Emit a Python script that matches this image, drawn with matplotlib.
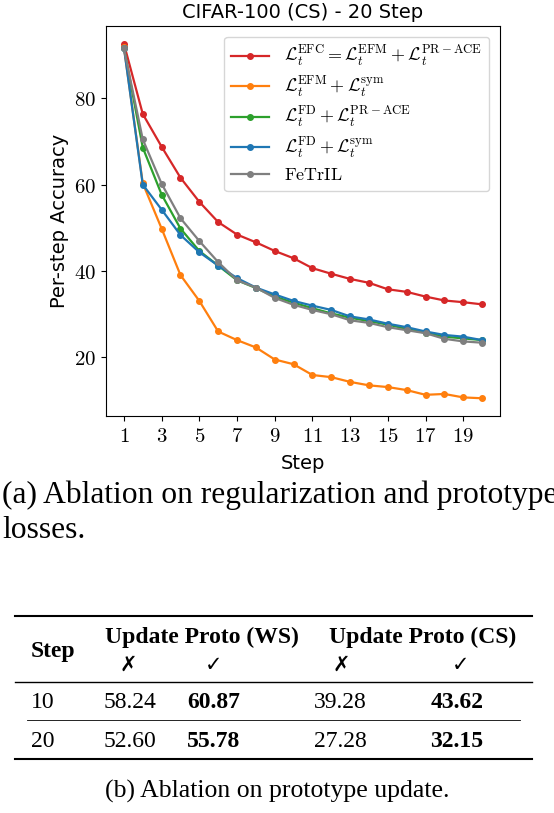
import matplotlib
matplotlib.use("Agg")
import matplotlib.pyplot as plt
from matplotlib.ticker import FuncFormatter
from matplotlib.lines import Line2D

plt.rcParams['mathtext.fontset'] = 'cm'

# ---------------- data ----------------
steps = list(range(1, 21))
efc = [92.7, 76.4, 68.8, 61.6, 56.0, 51.3, 48.4, 46.6, 44.6, 42.9,
       40.6, 39.3, 38.1, 37.2, 35.7, 35.1, 34.0, 33.1, 32.7, 32.2]
efm_sym = [91.9, 60.3, 49.8, 39.0, 33.0, 25.9, 23.9, 22.2, 19.4, 18.3,
           15.8, 15.3, 14.2, 13.4, 13.0, 12.3, 11.2, 11.4, 10.6, 10.4]
fd_prace = [91.8, 68.6, 57.7, 49.8, 44.6, 41.2, 37.8, 36.0, 34.0, 32.6,
            31.3, 30.1, 29.1, 28.3, 27.5, 26.5, 25.6, 24.7, 24.3, 23.9]
fd_sym = [91.8, 60.0, 54.2, 48.3, 44.3, 41.2, 38.3, 36.1, 34.5, 33.0,
          31.9, 30.9, 29.4, 28.7, 27.7, 26.9, 25.9, 25.1, 24.7, 23.9]
fetril = [91.6, 70.5, 60.2, 52.2, 46.9, 42.0, 37.8, 36.1, 33.7, 32.1,
          30.9, 29.9, 28.5, 27.9, 26.9, 26.2, 25.5, 24.2, 23.6, 23.3]

series = [efc, efm_sym, fd_prace, fd_sym, fetril]
labels = [r'$\mathcal{L}_t^{\mathrm{EFC}} = \mathcal{L}_t^{\mathrm{EFM}} + \mathcal{L}_t^{\mathrm{PR-ACE}}$',
          r'$\mathcal{L}_t^{\mathrm{EFM}} + \mathcal{L}_t^{\mathrm{sym}}$',
          r'$\mathcal{L}_t^{\mathrm{FD}} + \mathcal{L}_t^{\mathrm{PR-ACE}}$',
          r'$\mathcal{L}_t^{\mathrm{FD}} + \mathcal{L}_t^{\mathrm{sym}}$',
          r'$\mathrm{FeTrIL}$']
colors = ['#d62728', '#ff7f0e', '#2ca02c', '#1f77b4', '#7f7f7f']
xticks = list(range(1, 20, 2))

title = 'CIFAR-100 (CS) - 20 Step'
caption_a = ['(a) Ablation on regularization and prototype', 'losses.']
caption_b = '(b) Ablation on prototype update.'

tbl_steps = ['10', '20']
ws_no = ['58.24', '52.60']
ws_yes = ['60.87', '55.78']
cs_no = ['39.28', '27.28']
cs_yes = ['43.62', '32.15']

# ---------------- figure ----------------
W, H = 554, 813
fig = plt.figure(figsize=(W / 100, H / 100), dpi=100)


def fx(px):
    return px / W


def fy(py):
    return 1 - py / H


ax = fig.add_axes([fx(106), fy(416), fx(394), 390 / H])
for ys, lab, c in zip(series, labels, colors):
    ax.plot(steps, ys, '-o', color=c, label=lab, lw=1.6, ms=4)

ax.set_xticks(xticks)
fmt = FuncFormatter(lambda v, p: r'$%d$' % int(round(v)))
ax.xaxis.set_major_formatter(fmt)
ax.yaxis.set_major_formatter(fmt)
ax.tick_params(labelsize=15)
ax.set_title(title, fontsize=14)
ax.set_xlabel('Step', fontsize=14, labelpad=6)
ax.set_ylabel('Per-step Accuracy', fontsize=14)
ax.legend(loc='upper right', fontsize=13, labelspacing=0.3, handlelength=2.1,
          borderaxespad=0.6)

# ---------------- captions ----------------
serif = 'Liberation Serif'
fig.text(fx(2), fy(503), caption_a[0], family=serif, fontsize=22.7, va='baseline', ha='left')
fig.text(fx(2), fy(538), caption_a[1], family=serif, fontsize=22.7, va='baseline', ha='left')

# ---------------- table ----------------
fs = 17
x0, x1 = 15, 532
fig.add_artist(Line2D([fx(x0), fx(x1)], [fy(616), fy(616)], color='black', lw=1.5))
fig.add_artist(Line2D([fx(x0), fx(x1)], [fy(682), fy(682)], color='black', lw=1.0))
fig.add_artist(Line2D([fx(27), fx(520)], [fy(720), fy(720)], color='black', lw=0.6))
fig.add_artist(Line2D([fx(x0), fx(x1)], [fy(759), fy(759)], color='black', lw=1.5))

fig.text(fx(31), fy(657), 'Step', family=serif, weight='bold', fontsize=fs, va='baseline')
fig.text(fx(105), fy(643), 'Update Proto (WS)', family=serif, weight='bold', fontsize=fs, va='baseline')
fig.text(fx(329), fy(643), 'Update Proto (CS)', family=serif, weight='bold', fontsize=fs, va='baseline')

col_centers = [130, 214, 340, 457]
marks = ['\u2717', '\u2713', '\u2717', '\u2713']
mark_x = [128, 214, 341, 461]
for mx, m in zip(mark_x, marks):
    fig.text(fx(mx), fy(665), m, family=['DejaVu Sans'], fontsize=15, ha='center', va='center')

row_base = [708, 747]
for i in range(2):
    fig.text(fx(31), fy(row_base[i]), tbl_steps[i], family=serif, fontsize=fs, va='baseline')
    vals = [ws_no[i], ws_yes[i], cs_no[i], cs_yes[i]]
    for j, v in enumerate(vals):
        fig.text(fx(col_centers[j]), fy(row_base[i]), v, family=serif, fontsize=fs,
                 weight='bold' if j % 2 == 1 else 'normal', ha='center', va='baseline')

fig.text(fx(277), fy(798), caption_b, family=serif, fontsize=18.5, ha='center', va='baseline')

fig.savefig('out.png', dpi=100)
